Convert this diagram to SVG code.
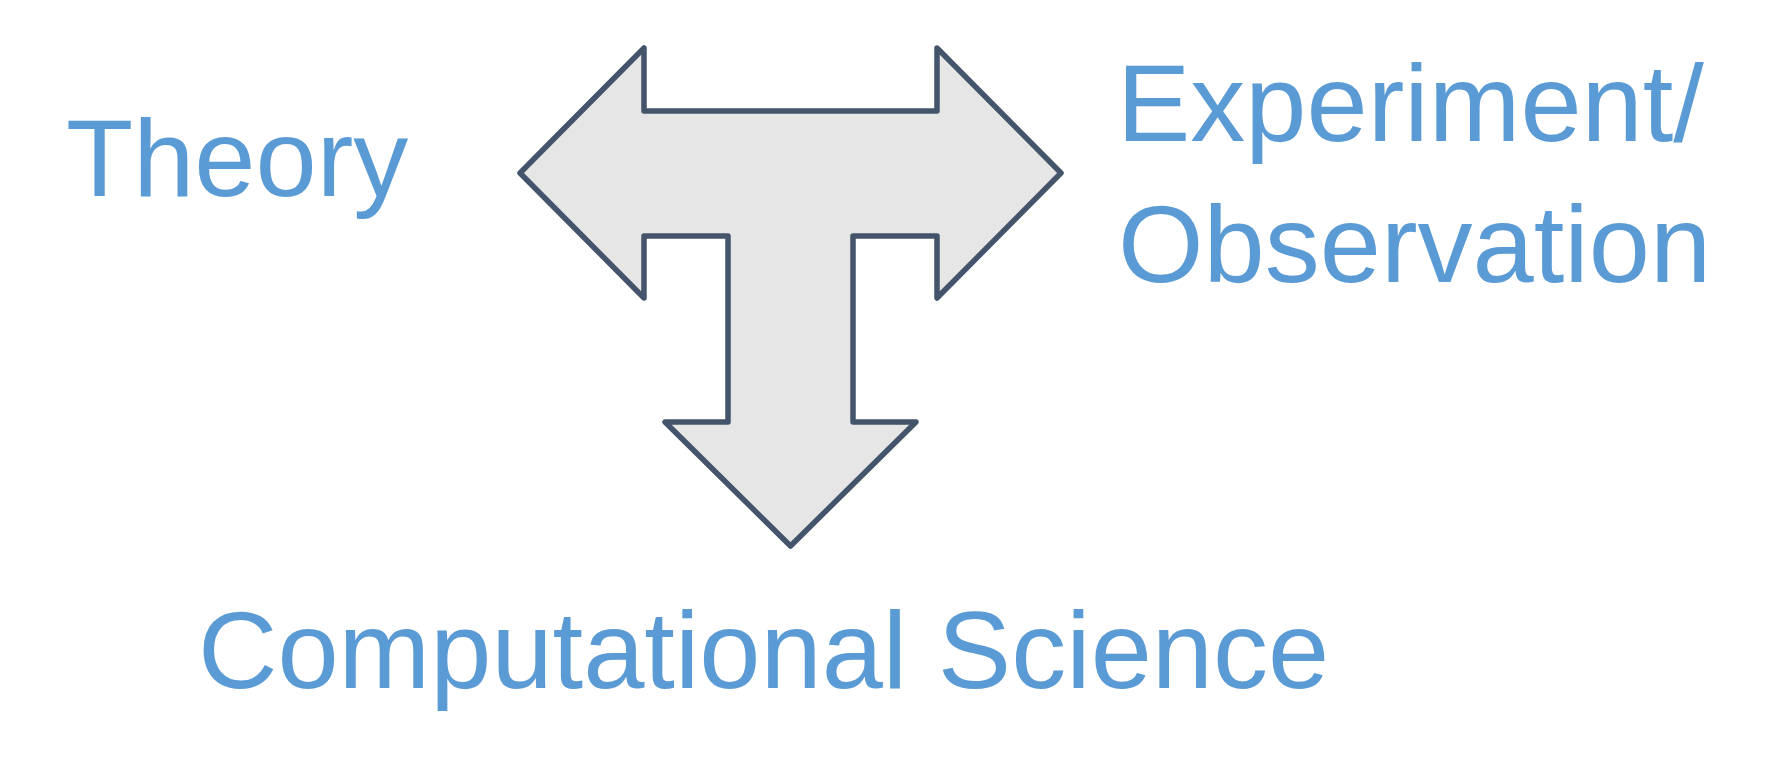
<svg xmlns="http://www.w3.org/2000/svg" width="1777" height="780" viewBox="0 0 1777 780">
  <style>
    .lbl { font-family: "Liberation Sans", Arial, sans-serif; font-size: 110px; fill: #5b9bd5; }
    .arrow { fill: #e7e6e6; stroke: #44546a; stroke-width: 5.5; stroke-linejoin: round; }
  </style>
  <rect width="1777" height="780" fill="#ffffff"/>
  <g id="connectors">
    <polygon class="arrow" points="644,48 644,111 937,111 937,48 1061,173 937,298 937,236 853,236 853,422 916,422 790.5,546 665,422 728,422 728,236 644,236 644,298 520,173"/>
  </g>
  <g id="theory">
    <text class="lbl" x="66" y="196">Theory</text>
  </g>
  <g id="experiment">
    <text class="lbl" x="1117" y="140.5">Experiment/</text>
    <text class="lbl" x="1118" y="281.5">Observation</text>
  </g>
  <g id="computational">
    <text class="lbl" x="198" y="687.5">Computational Science</text>
  </g>
</svg>
